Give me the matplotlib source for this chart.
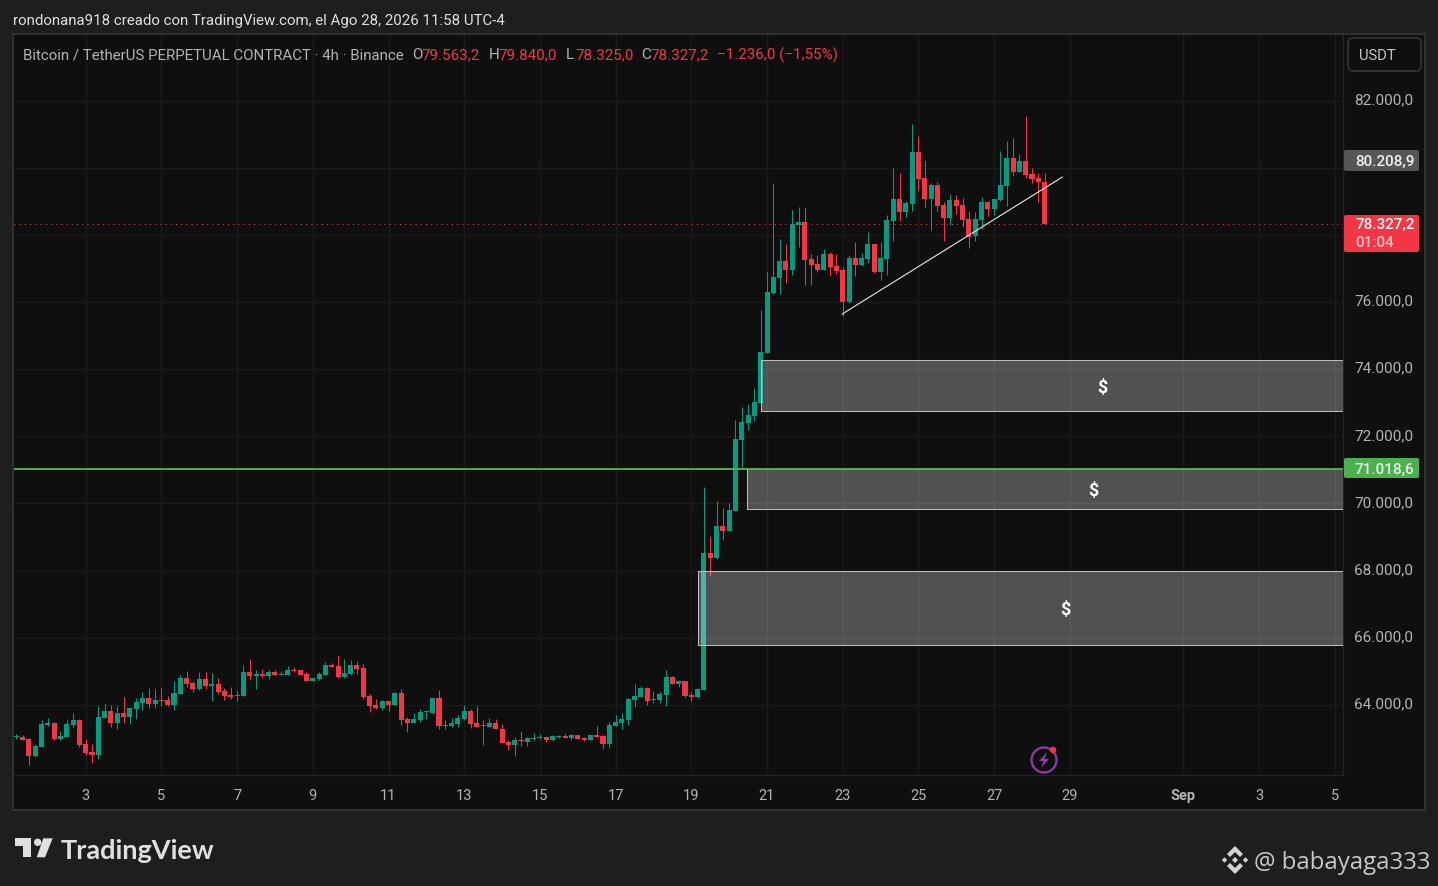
import matplotlib
matplotlib.use("Agg")
import matplotlib.pyplot as plt
from matplotlib.patches import Rectangle, FancyBboxPatch, Circle, Polygon
from matplotlib.transforms import ScaledTranslation

# 4h candles
opens = [
    63040, 63060, 63000, 62490, 62760, 63410, 63470, 63000, 63060, 63410,
    63560, 62850, 62610, 62520, 63620, 63830, 63470, 63770, 63650, 63890,
    64070, 64220, 64040, 64160, 64160, 64010, 64340, 64810, 64640, 64490,
    64780, 64580, 64610, 64430, 64310, 64280, 64280, 64990, 64870, 64930,
    64870, 64990, 64900, 64900, 65050, 65050, 64930, 64720, 64780, 64900,
    65200, 65170, 64840, 64930, 65200, 65110, 64280, 64010, 63920, 64130,
    64010, 64370, 63590, 63470, 63560, 63780, 63770, 64220, 63410, 63380,
    63440, 63590, 63830, 63470, 63360, 63350, 63470, 63290, 62910, 62820,
    62970, 62910, 63000, 63030, 63060, 62970, 63060, 63090, 63030, 63120,
    63030, 62970, 63120, 63090, 62850, 63380, 63470, 63560, 64160, 64250,
    64520, 64160, 64160, 64310, 64840, 64610, 64700, 64310, 64250, 64460,
    68540, 68390, 69320, 69170, 69790, 71880, 72410, 72620, 72980, 74470,
    76280, 76720, 77230, 76960, 78300, 78390, 77290, 77140, 76960, 77440,
    77080, 76960, 76010, 77320, 77110, 77290, 77740, 76900, 77290, 78420,
    79080, 78690, 78930, 80480, 79680, 79080, 79470, 78900, 78490, 79050,
    78900, 78460, 77980, 78430, 78990, 78780, 79050, 79440, 80300, 79860,
    80210, 79800, 79680, 79563.2,
]
highs = [
    63150, 63120, 63030, 62850, 63560, 63620, 63500, 63240, 63590, 63770,
    63590, 63000, 62850, 63980, 64070, 64010, 63980, 64250, 63920, 64220,
    64400, 64520, 64490, 64520, 64280, 64720, 64900, 65020, 64700, 64990,
    64990, 64960, 64810, 64520, 64550, 64460, 65200, 65380, 65050, 65080,
    65050, 65050, 65020, 65170, 65140, 65050, 64990, 64840, 64990, 65290,
    65260, 65500, 65380, 65350, 65320, 65230, 64340, 64190, 64160, 64130,
    64400, 64490, 63650, 63770, 63890, 63860, 64220, 64460, 63560, 63620,
    63710, 64010, 63890, 63980, 63560, 63620, 63590, 63440, 62970, 63060,
    63240, 63060, 63180, 63150, 63060, 63120, 63120, 63150, 63150, 63120,
    63060, 63120, 63380, 63120, 63500, 63710, 63770, 64220, 64610, 64580,
    64550, 64430, 64400, 65050, 64870, 64750, 64720, 64400, 64520, 70480,
    69020, 70060, 69880, 70000, 72500, 72860, 72950, 73430, 75760, 76900,
    79550, 77890, 77740, 78750, 78840, 78840, 77440, 77410, 77590, 77500,
    77440, 77050, 77410, 77800, 77470, 78070, 77740, 77800, 78600, 80000,
    79850, 79020, 81290, 80930, 80240, 79530, 79560, 78990, 79230, 79200,
    79110, 78700, 78670, 79140, 79020, 79080, 80510, 80780, 80870, 80420,
    81530, 79980, 79830, 79840,
]
lows = [
    62980, 62970, 62220, 62460, 62760, 63380, 62970, 62970, 63060, 63320,
    62760, 62520, 62280, 62400, 63620, 63350, 63290, 63470, 63440, 63590,
    63860, 63920, 63920, 63980, 63980, 63860, 64340, 64550, 64400, 64460,
    64490, 64130, 64340, 64160, 64190, 64130, 64280, 64750, 64490, 64810,
    64780, 64900, 64900, 64900, 64990, 64900, 64700, 64720, 64750, 64900,
    65140, 64810, 64810, 64900, 64930, 64190, 63800, 63890, 63860, 63830,
    64010, 63410, 63210, 63470, 63500, 63590, 63740, 63290, 63290, 63350,
    63350, 63560, 63320, 63350, 62820, 63350, 63270, 62880, 62670, 62490,
    62790, 62790, 62970, 63000, 62910, 62940, 63030, 63030, 62970, 63000,
    62940, 62970, 63060, 62700, 62730, 63380, 63270, 63410, 63950, 64250,
    64010, 64070, 64070, 63980, 64610, 64550, 64250, 64130, 64220, 64460,
    67830, 68360, 68900, 69170, 69790, 71100, 72180, 72470, 72980, 74470,
    76250, 76250, 76580, 76810, 77650, 76520, 76520, 76900, 76960, 76780,
    76840, 75590, 75980, 76780, 77080, 77170, 76870, 76670, 76810, 77830,
    78420, 78540, 78700, 79320, 78840, 78130, 78700, 77830, 78280, 78610,
    78220, 77620, 77830, 78160, 78550, 78580, 79020, 78870, 79740, 79860,
    79680, 79530, 78990, 78325,
]
closes = [
    63060, 62970, 62490, 62790, 63440, 63470, 63000, 63090, 63440, 63560,
    62820, 62580, 62520, 63650, 63830, 63470, 63770, 63650, 63920, 64100,
    64220, 64040, 64160, 64130, 64010, 64370, 64810, 64610, 64490, 64780,
    64580, 64610, 64400, 64280, 64250, 64310, 64990, 64870, 64930, 64870,
    64990, 64900, 64930, 65050, 65020, 64900, 64720, 64810, 64930, 65200,
    65140, 64840, 64960, 65200, 65080, 64250, 63980, 63920, 64130, 64010,
    64370, 63560, 63470, 63590, 63800, 63820, 64220, 63380, 63380, 63470,
    63620, 63830, 63440, 63350, 63380, 63470, 63270, 62880, 62820, 62970,
    62940, 63030, 63030, 63060, 62970, 63090, 63090, 63030, 63120, 63000,
    62970, 63120, 63060, 62850, 63410, 63500, 63590, 64190, 64280, 64520,
    64130, 64190, 64340, 64840, 64610, 64700, 64280, 64250, 64490, 68540,
    68390, 69320, 69170, 69820, 71910, 72440, 72650, 73010, 74500, 76310,
    76750, 77230, 76960, 78330, 78390, 77260, 77110, 76960, 77440, 77050,
    76930, 76010, 77320, 77110, 77320, 77740, 76900, 77320, 78450, 79080,
    78690, 78960, 80480, 79650, 79080, 79470, 78870, 78490, 79050, 78870,
    78430, 77950, 78460, 78990, 78780, 79080, 79470, 80300, 79860, 80210,
    79770, 79650, 79560, 78327.2,
]

price_ticks = [64000, 66000, 68000, 70000, 72000, 74000, 76000, 78000, 80000, 82000]
price_labels = ["64.000,0", "66.000,0", "68.000,0", "70.000,0", "72.000,0",
                "74.000,0", "76.000,0", "", "", "82.000,0"]
date_ticks = [11, 23, 35, 47, 59, 71, 83, 95, 107, 119, 131, 143, 155, 167, 185, 197, 209]
date_labels = ["3", "5", "7", "9", "11", "13", "15", "17", "19", "21", "23", "25", "27", "29",
               "Sep", "3", "5"]

# zones: left candle index, bottom price, top price, label position
zone_lefts = [118, 115.84, 108]
zone_bottoms = [72740, 69850, 65790]
zone_tops = [74260, 71018.6, 67980]
zone_label_x = [172.2, 170.8, 166.3]

trend_x = [130.9, 165.8]
trend_y = [75640, 79720]
support_price = 71018.6
last_price = 78327.2

BG = "#1e1e1e"
PANE = "#0f0f0f"
GRID = "#1b1b1b"
UP = "#089981"
DOWN = "#f23645"
TEXT = "#b4b4b4"
FONT = "Roboto"

plt.rcParams["font.family"] = FONT

W, H = 1438, 887
fig = plt.figure(figsize=(W / 100, H / 100), dpi=100, facecolor=BG)


def px_axes(left, top, right, bottom):
    return [left / W, 1 - bottom / H, (right - left) / W, (bottom - top) / H]


# dark pane behind chart and both axes
bg = fig.add_axes([0, 0, 1, 1], zorder=0)
bg.set_xlim(0, W)
bg.set_ylim(H, 0)
bg.axis("off")
bg.add_patch(Rectangle((13, 34.5), 1412, 777, facecolor=PANE, edgecolor="#303030", linewidth=1.5))

ax = fig.add_axes(px_axes(14, 36, 1343, 776), zorder=1)
ax.set_facecolor(PANE)
ax.set_xlim(-0.365, 210.3)
ax.set_ylim(61915, 83951)
for side in ["left", "top"]:
    ax.spines[side].set_visible(False)
for side in ["right", "bottom"]:
    ax.spines[side].set_color("#242424")
    ax.spines[side].set_linewidth(1)

ax.yaxis.tick_right()
ax.set_yticks(price_ticks)
ax.set_yticklabels(price_labels)
ax.set_xticks(date_ticks)
ax.set_xticklabels(date_labels)
ax.tick_params(axis="y", length=0, pad=8, labelsize=11, labelcolor=TEXT)
ax.tick_params(axis="x", length=0, pad=9.6, labelsize=10.5, labelcolor=TEXT)
ax.get_xticklabels()[14].set_fontweight("bold")
# price labels sit a little high on their gridlines
lift = ScaledTranslation(0, 3 / 100, fig.dpi_scale_trans)
for label in ax.get_yticklabels():
    label.set_transform(label.get_transform() + lift)
ax.grid(True, color=GRID, linewidth=1)
ax.set_axisbelow(True)

# candles
idx = list(range(len(opens)))
for i in idx:
    color = UP if closes[i] >= opens[i] else DOWN
    ax.vlines(i, lows[i], highs[i], color=color, linewidth=0.75, zorder=2)
    bottom = min(opens[i], closes[i])
    height = max(abs(closes[i] - opens[i]), 30)
    ax.bar(i, height, bottom=bottom, width=0.8, color=color, linewidth=0, zorder=3)

ax.axhline(last_price, color=DOWN, linewidth=0.75, linestyle=(0, (1, 4)), zorder=4)

for left, low, top_price, lx in zip(zone_lefts, zone_bottoms, zone_tops, zone_label_x):
    ax.add_patch(Rectangle((left, low), 300, top_price - low, facecolor="white", alpha=0.28,
                           linewidth=0, zorder=5))
    ax.add_patch(Rectangle((left, low), 300, top_price - low, facecolor="none", edgecolor="#bdbdbd",
                           linewidth=0.75, zorder=5))
    ax.text(lx, (low + top_price) / 2 - 20, "$", color="white", fontsize=13, fontweight="bold",
            ha="center", va="center", zorder=6)

ax.axhline(support_price, color="#4caf50", linewidth=1.4, zorder=6)
ax.plot(trend_x, trend_y, color="#e8e8e8", linewidth=0.8, zorder=6)

# everything that is not data goes in pixel coordinates on top
top = fig.add_axes([0, 0, 1, 1], zorder=2)
top.set_xlim(0, W)
top.set_ylim(H, 0)
top.axis("off")
top.patch.set_alpha(0)

top.text(13, 21, "rondonana918 creado con TradingView.com, el Ago 28, 2026 11:58 UTC-4",
         color="#e0e0e0", fontsize=10.84, va="center")
top.text(23, 55, "Bitcoin / TetherUS PERPETUAL CONTRACT · 4h · Binance", color=TEXT,
         fontsize=10.77, va="center")
for x, s, c in [(412, "O", TEXT), (421, "79.563,2", DOWN), (489, "H", TEXT), (498, "79.840,0", DOWN),
                (566, "L", TEXT), (575, "78.325,0", DOWN), (641, "C", TEXT), (650, "78.327,2", DOWN),
                (717, "−1.236,0 (−1,55%)", DOWN)]:
    top.text(x, 55, s, color=c, fontsize=10.9, va="center")

# USDT button
top.add_patch(FancyBboxPatch((1351, 42), 67, 27, boxstyle="round,pad=3,rounding_size=5",
                             facecolor=PANE, edgecolor="#363636", linewidth=1.2))
top.text(1359, 56, "USDT", color="#c8c8c8", fontsize=10.6, va="center")

# price tags
top.add_patch(FancyBboxPatch((1345, 152), 73, 19, boxstyle="round,pad=1,rounding_size=2",
                             facecolor="#565656", linewidth=0))
top.text(1384.5, 162, "80.208,9", color="#f0f0f0", fontsize=11, fontweight="medium",
         ha="center", va="center")
top.add_patch(FancyBboxPatch((1345, 217), 73, 35, boxstyle="round,pad=1,rounding_size=2",
                             facecolor=DOWN, linewidth=0))
top.text(1355, 225, "78.327,2", color="white", fontsize=11, fontweight="medium", va="center")
top.text(1355, 243, "01:04", color="#ffc4c9", fontsize=11, fontweight="medium", va="center")
top.add_patch(FancyBboxPatch((1345, 460), 73, 18, boxstyle="round,pad=1,rounding_size=2",
                             facecolor="#4caf50", linewidth=0))
top.text(1384.5, 470, "71.018,6", color="#e8f5e9", fontsize=11, fontweight="medium",
         ha="center", va="center")

# alert icon
top.add_patch(Circle((1044, 761), 12.5, facecolor="none", edgecolor="#8e3ea8", linewidth=1.6))
top.add_patch(Polygon([(1047, 753), (1039, 762), (1043.5, 762), (1041, 769), (1049, 760), (1044.5, 760)],
                      facecolor="#8e3ea8", linewidth=0))
top.add_patch(Circle((1053, 751), 3.2, facecolor=DOWN, linewidth=0))

# TradingView logo
LOGO = "#e0e0e0"
top.add_patch(Polygon([(15.3, 839.3), (31, 839.3), (31, 858.3), (22.7, 858.3), (22.7, 846.7), (15.3, 846.7)],
                      facecolor=LOGO, linewidth=0))
top.add_patch(Circle((37.7, 843.3), 3.7, facecolor=LOGO, linewidth=0))
top.add_patch(Polygon([(43.3, 839.3), (52.7, 839.3), (45, 858.3), (36.7, 858.3)], facecolor=LOGO, linewidth=0))
top.text(61, 851, "TradingView", color=LOGO, fontsize=19.5, fontweight="bold", family="Lato", va="center")

# Binance mark and handle
cx, cy = 1235, 861
MARK = "#d4d4d4"
for sign in [-1, 1]:
    top.add_patch(Polygon([(cx, cy + sign * 14), (cx + 8, cy + sign * 6), (cx + 5, cy + sign * 3),
                           (cx, cy + sign * 8), (cx - 5, cy + sign * 3), (cx - 8, cy + sign * 6)],
                          facecolor=MARK, linewidth=0))
for dx, r in [(-10.5, 2.7), (0, 3), (10.5, 2.7)]:
    top.add_patch(Polygon([(cx + dx - r, cy), (cx + dx, cy - r), (cx + dx + r, cy), (cx + dx, cy + r)],
                          facecolor=MARK, linewidth=0))
top.text(1254, 863, "@ babayaga333", color="#c8c8c8", fontsize=17.3, family="Open Sans", va="center")

fig.savefig("out.png", dpi=100, facecolor=BG)
